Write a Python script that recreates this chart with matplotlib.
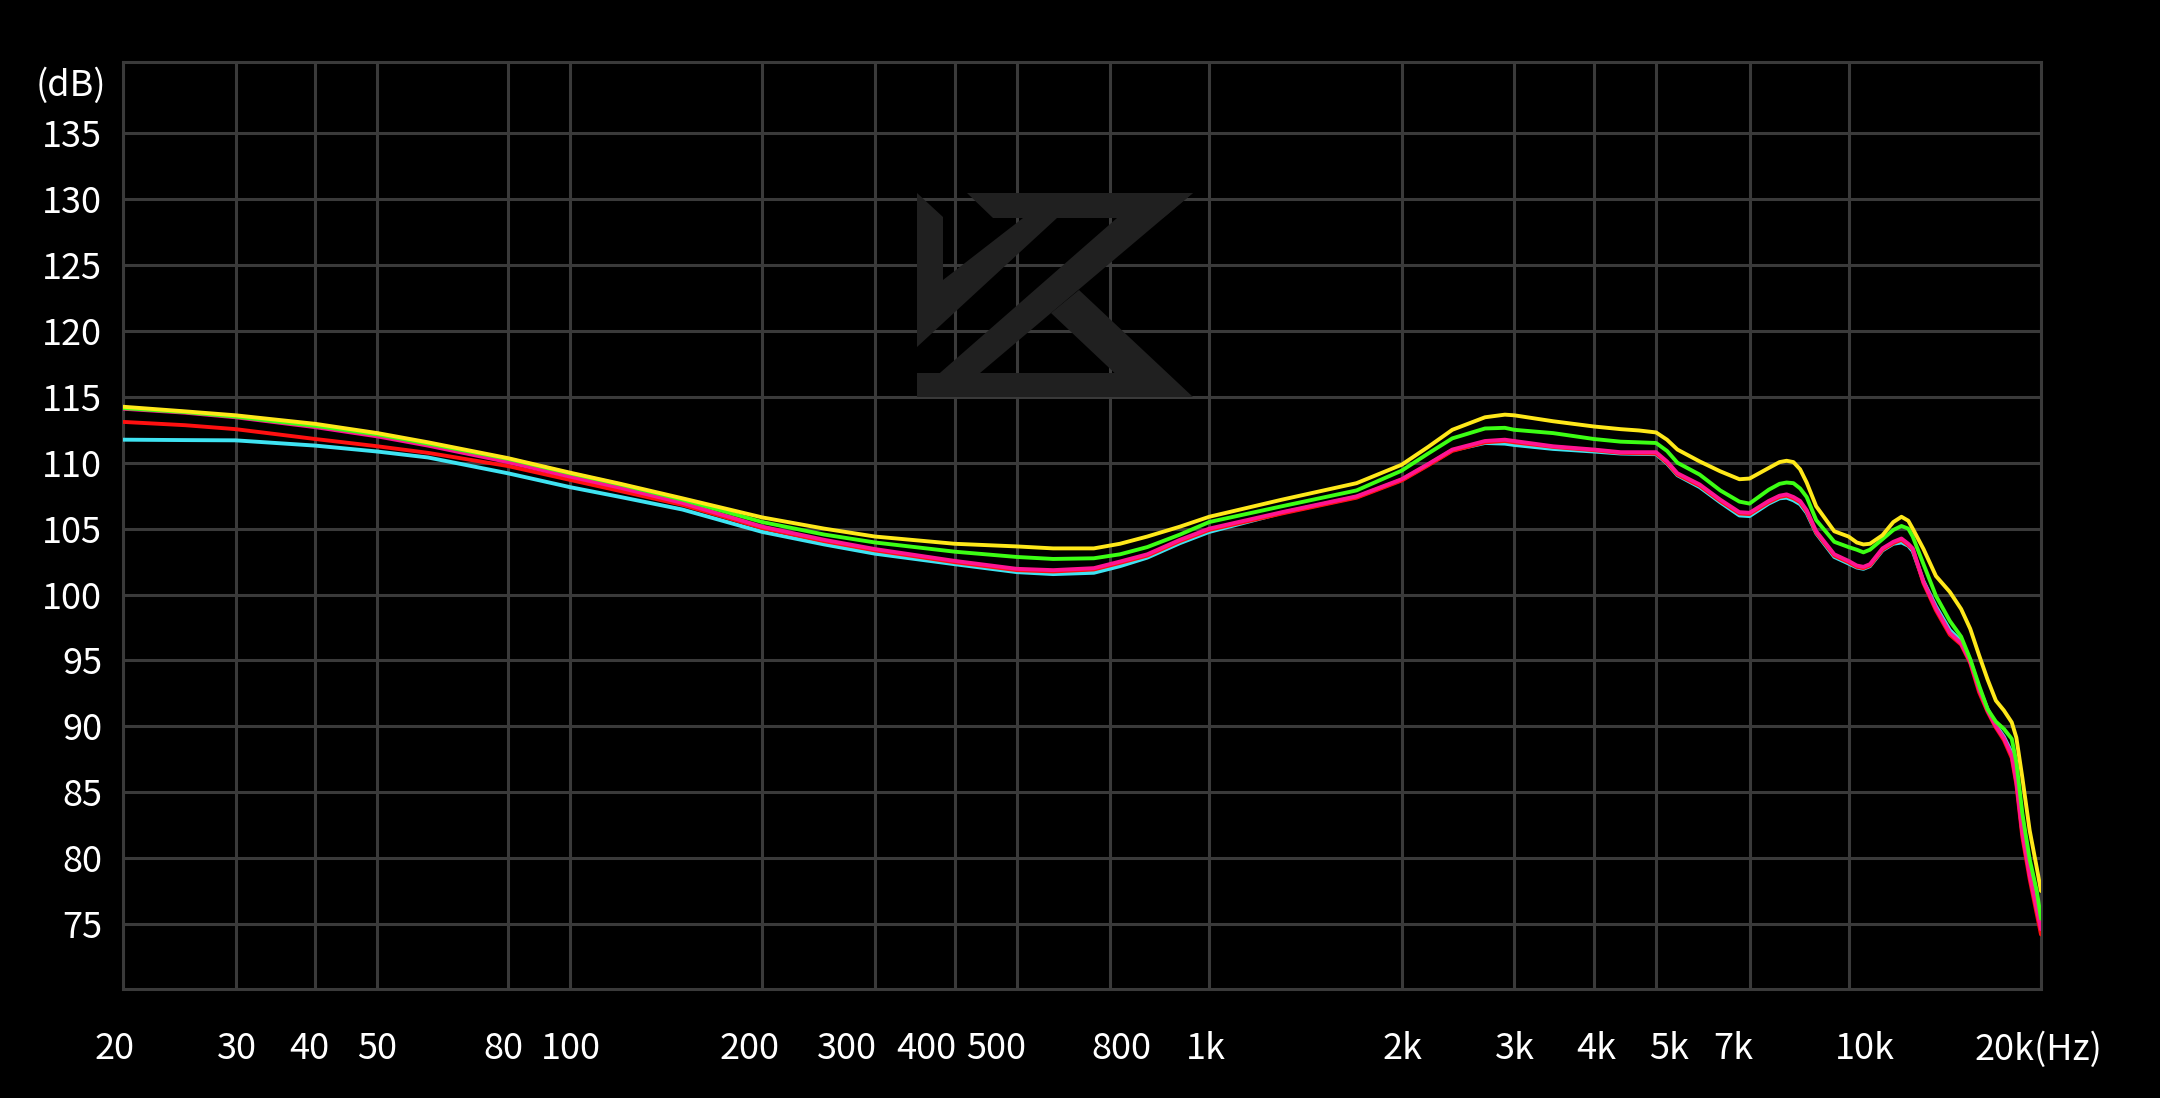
import matplotlib
matplotlib.use("Agg")
import matplotlib.pyplot as plt
from matplotlib.patches import Polygon
from matplotlib.ticker import NullLocator
from matplotlib.transforms import blended_transform_factory, offset_copy

# ---- 数据: 频响曲线 (Hz, dB), 读自原图 ----
freqs = [20, 25, 30, 40, 50, 60, 80, 100, 120, 150,
         200, 250, 300, 400, 500, 570, 660, 725, 800, 900,
         1000, 1300, 1700, 2000, 2200, 2400, 2700, 2900, 3000, 3450,
         4000, 4400, 4700, 5000, 5200, 5400, 5850, 6300, 6750, 7000,
         7500, 7800, 8000, 8200, 8400, 8600, 8900, 9500, 10000, 10300,
         10550, 10800, 11300, 11750, 12100, 12400, 12600, 13100, 13700, 14400,
         15000, 15500, 16000, 16500, 17000, 17500, 18000, 18300, 18700, 19200,
         19700, 20000]

yellow = [114.25, 113.9, 113.6, 112.95, 112.25, 111.55, 110.35, 109.25, 108.4, 107.3,
          105.85, 105.0, 104.4, 103.85, 103.65, 103.5, 103.5, 103.85, 104.4, 105.15,
          105.9, 107.2, 108.45, 109.85, 111.2, 112.5, 113.45, 113.65, 113.6, 113.15,
          112.75, 112.55, 112.45, 112.3, 111.75, 111.0, 110.1, 109.35, 108.75, 108.8,
          109.6, 110.05, 110.15, 110.05, 109.5, 108.5, 106.7, 104.8, 104.4, 103.95,
          103.8, 103.85, 104.5, 105.5, 105.9, 105.6, 105.0, 103.45, 101.4, 100.2,
          98.9, 97.4, 95.4, 93.55, 91.95, 91.2, 90.3, 89.15, 86.1, 82.1,
          79.25, 77.5]

green = [114.15, 113.85, 113.5, 112.8, 112.15, 111.45, 110.3, 109.2, 108.35, 107.2,
         105.5, 104.55, 103.95, 103.25, 102.85, 102.7, 102.75, 103.05, 103.6, 104.55,
         105.5, 106.7, 107.9, 109.4, 110.7, 111.85, 112.6, 112.65, 112.5, 112.25,
         111.8, 111.6, 111.55, 111.5, 110.9, 110.0, 109.1, 107.9, 107.05, 106.9,
         107.95, 108.4, 108.5, 108.45, 108.05, 107.4, 105.65, 104.0, 103.6, 103.4,
         103.2, 103.4, 104.2, 104.9, 105.2, 105.0, 104.4, 102.3, 99.9, 98.0,
         96.8, 95.1, 93.1, 91.3, 90.35, 89.8, 89.05, 87.3, 83.4, 79.9,
         77.5, 75.4]

red = [113.1, 112.85, 112.55, 111.8, 111.25, 110.75, 109.75, 108.7, 107.85, 106.8,
       105.05, 104.05, 103.35, 102.45, 101.85, 101.75, 101.9, 102.4, 102.95, 104.05,
       104.9, 106.15, 107.35, 108.65, 109.8, 110.9, 111.55, 111.65, 111.55, 111.2,
       110.95, 110.75, 110.72, 110.7, 110.0, 109.1, 108.25, 107.1, 106.15, 106.1,
       107.0, 107.4, 107.5, 107.3, 107.0, 106.3, 104.7, 102.95, 102.45, 102.1,
       102.0, 102.2, 103.4, 103.9, 104.15, 103.75, 103.45, 100.85, 98.8, 96.95,
       96.2, 94.8, 92.6, 91.1, 89.9, 88.95, 87.6, 85.6, 81.6, 78.4,
       75.75, 74.2]

magenta = [114.1, 113.8, 113.45, 112.7, 112.0, 111.3, 110.05, 108.95, 108.1, 106.95,
           105.15, 104.15, 103.45, 102.55, 101.95, 101.85, 102.0, 102.5, 103.05, 104.15,
           105.0, 106.25, 107.45, 108.75, 109.9, 111.0, 111.65, 111.75, 111.65, 111.25,
           111.0, 110.8, 110.8, 110.8, 110.1, 109.2, 108.35, 107.2, 106.25, 106.2,
           107.1, 107.5, 107.6, 107.4, 107.1, 106.4, 104.8, 103.05, 102.55, 102.2,
           102.1, 102.3, 103.5, 104.0, 104.25, 103.85, 103.5, 100.95, 98.95, 97.1,
           96.3, 94.9, 92.8, 91.2, 90.0, 89.1, 87.8, 85.8, 81.9, 78.7,
           76.1, 74.6]

cyan = [111.75, 111.72, 111.7, 111.3, 110.85, 110.4, 109.2, 108.15, 107.4, 106.45,
        104.75, 103.8, 103.1, 102.3, 101.7, 101.55, 101.65, 102.15, 102.8, 103.9,
        104.75, 106.2, 107.4, 108.7, 109.85, 110.95, 111.5, 111.45, 111.35, 111.05,
        110.85, 110.7, 110.67, 110.65, 109.95, 109.05, 108.15, 107.0, 106.0, 105.95,
        106.9, 107.3, 107.35, 107.15, 106.85, 106.2, 104.65, 102.85, 102.35, 102.05,
        101.95, 102.15, 103.35, 103.85, 103.95, 103.7, 103.3, 101.0, 99.1, 97.3,
        96.45, 95.0, 92.9, 91.3, 90.1, 89.2, 88.0, 86.1, 82.0, 78.8,
        76.2, 74.8]

# 网格线位置 (原图 "800" 那条线实际在 700 Hz)
grid_hz = [20, 30, 40, 50, 80, 100, 200, 300, 400, 500, 700, 1000, 2000,
           3000, 4000, 5000, 7000, 10000, 20000]
x_labels = ["20", "30", "40", "50", "80", "100", "200", "300", "400", "500",
            "800", "1k", "2k", "3k", "4k", "5k", "7k", "10k", "20k(Hz)"]
y_ticks = [75, 80, 85, 90, 95, 100, 105, 110, 115, 120, 125, 130, 135]

# 标签相对网格线的水平偏移 (px), 原图标签没完全居中
x_label_dx = [-8, 1, -6, 0, -5, 1, -13, -28, -28, -21, 11, -3, 1, 1, 2, 13,
              -16, 16, -3]

W, H, DPI = 2160, 1098, 100
GRID_C = "#3a3a3a"
FONT = dict(family=["Noto Sans CJK SC", "DejaVu Sans"], weight="light",
            size=26, color="white")

fig = plt.figure(figsize=(W / DPI, H / DPI), dpi=DPI, facecolor="black")
ax = fig.add_axes([123 / W, 1 - 989.3 / H, (2041 - 123) / W, (989.3 - 62.3) / H])
ax.set_facecolor("black")

# 水印 logo (KZ), 坐标单位: 原图像素
logo_polys = [
    [(917, 193), (943, 217), (943, 280), (1023, 218), (1057, 218), (917, 347)],
    [(967, 193), (1193, 193), (1163, 218), (993, 218)],
    [(1117, 218), (1193, 193), (980, 373), (917, 393)],
    [(917, 373), (1140, 373), (1147, 397), (917, 397)],
    [(1051, 313), (1079, 290), (1193, 397), (1140, 397)],
]
for poly in logo_polys:
    pts = [(x / W, 1 - y / H) for x, y in poly]
    fig.patches.append(Polygon(pts, closed=True, transform=fig.transFigure,
                               facecolor="#202020", edgecolor="none", zorder=0))

# 曲线: 画的顺序决定谁压在上面
series = [(cyan, "#3fe3f2"), (red, "#ff1010"), (magenta, "#ff1493"),
          (green, "#3cff14"), (yellow, "#ffe81a")]
for vals, c in series:
    assert len(vals) == len(freqs)
    ax.plot(freqs, vals, color=c, lw=2.8, solid_joinstyle="round",
            solid_capstyle="round", zorder=3)

ax.set_xscale("log")
ax.set_xlim(20, 20000)
ax.set_ylim(70.04, 140.39)
ax.set_xticks(grid_hz, labels=[""] * len(grid_hz))
ax.xaxis.set_minor_locator(NullLocator())
ax.set_yticks(y_ticks)
ax.set_axisbelow(True)
ax.grid(True, color=GRID_C, lw=2.2)
ax.tick_params(length=0)
ax.tick_params(axis="y", pad=15)
for lab in ax.get_yticklabels():
    lab.set_fontfamily(FONT["family"])
    lab.set_fontweight("light")
    lab.set_fontsize(FONT["size"])
    lab.set_color("white")
for sp in ax.spines.values():
    sp.set_color(GRID_C)
    sp.set_linewidth(2.2)

# x 轴标签用 text 画, 方便逐个微调
base = blended_transform_factory(ax.transData, ax.transAxes)
for hz, lab, dx in zip(grid_hz, x_labels, x_label_dx):
    tr = offset_copy(base, fig=fig, x=dx, y=-60, units="dots")
    ax.text(hz, 0, lab, transform=tr, ha="center", va="center", **FONT)

fig.text(106 / W, 1 - 86 / H, "(dB)", ha="right", va="center", **FONT)

fig.savefig("out.png", dpi=DPI, facecolor="black")
